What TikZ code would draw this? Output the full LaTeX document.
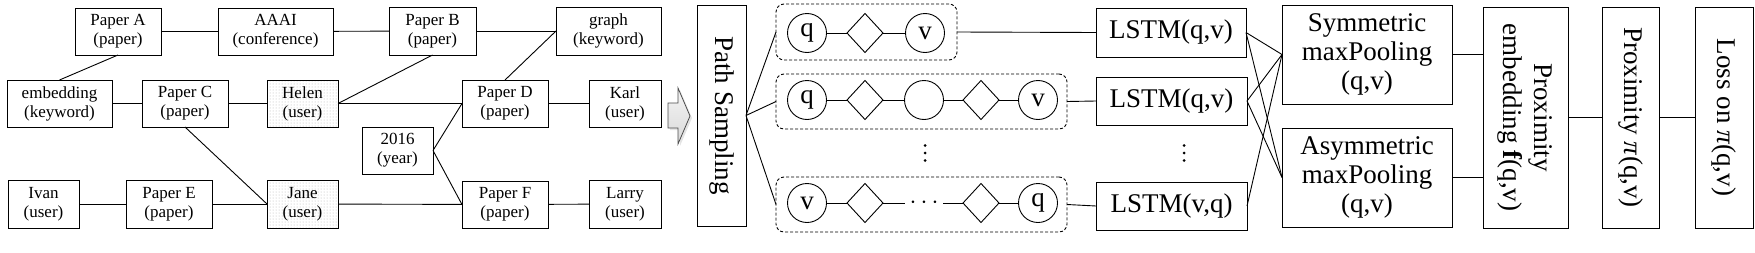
\documentclass[tikz,border=0pt]{standalone}
\usepackage{fontspec}
\setmainfont{Liberation Serif}
\usetikzlibrary{shapes.geometric,patterns,shadows}
\begin{document}
\begin{tikzpicture}[x=1pt,y=-1pt,
  every node/.style={inner sep=0pt, outer sep=0pt},
  gbox/.style={draw, line width=0.9pt, align=center, font=\fontsize{17}{19}\selectfont},
  ubox/.style={gbox, pattern=dots, pattern color=gray!60},
  bigbox/.style={draw, line width=1pt, align=center, font=\fontsize{27}{29}\selectfont},
  pathbox/.style={draw, line width=0.9pt, dash pattern=on 3pt off 2pt, rounded corners=8pt},
  circ/.style={draw, circle, line width=0.9pt, minimum size=39pt, font=\fontsize{27}{29}\selectfont},
  diam/.style={draw, diamond, line width=0.9pt, minimum width=36pt, minimum height=39pt},
  dotsnode/.style={font=\fontsize{27}{29}\selectfont},
  edge/.style={line width=0.9pt}
]
\useasboundingbox (0,0) rectangle (1755,252);

% ---------- heterogeneous graph ----------
\node[gbox, minimum width=86pt, minimum height=47pt] (PA) at (118,31.5) {Paper A\\(paper)};
\node[gbox, minimum width=115pt, minimum height=47pt] (AAAI) at (275.5,31.5) {AAAI\\(conference)};
\node[gbox, minimum width=87pt, minimum height=48pt] (PB) at (432.5,31) {Paper B\\(paper)};
\node[gbox, minimum width=105pt, minimum height=48pt] (graph) at (608.5,31) {graph\\(keyword)};
\node[gbox, minimum width=105pt, minimum height=47pt] (emb) at (59.5,103.5) {embedding\\(keyword)};
\node[gbox, minimum width=86pt, minimum height=47pt] (PC) at (185,103.5) {Paper C\\(paper)};
\node[ubox, minimum width=71pt, minimum height=47pt] (Helen) at (302.5,103.5) {Helen\\(user)};
\node[gbox, minimum width=86pt, minimum height=47pt] (PD) at (505,103.5) {Paper D\\(paper)};
\node[gbox, minimum width=72pt, minimum height=47pt] (Karl) at (625,103.5) {Karl\\(user)};
\node[gbox, minimum width=71pt, minimum height=47pt] (Y) at (397.5,150.5) {2016\\(year)};
\node[gbox, minimum width=71pt, minimum height=48pt] (Ivan) at (43.5,204) {Ivan\\(user)};
\node[gbox, minimum width=86pt, minimum height=48pt] (PE) at (169,204) {Paper E\\(paper)};
\node[ubox, minimum width=71pt, minimum height=48pt] (Jane) at (302.5,204) {Jane\\(user)};
\node[gbox, minimum width=86pt, minimum height=47pt] (PF) at (505,204.5) {Paper F\\(paper)};
\node[gbox, minimum width=72pt, minimum height=48pt] (Larry) at (625,204) {Larry\\(user)};

\draw[edge] (PA) -- (AAAI);
\draw[edge] (AAAI) -- (PB);
\draw[edge] (PB) -- (graph);
\draw[edge] (PA.south) -- (emb.north);
\draw[edge] (emb) -- (PC);
\draw[edge] (PC) -- (Helen);
\draw[edge] (Helen.east) -- (PB.south);
\draw[edge] (Helen) -- (PD);
\draw[edge] (graph.west) -- (PD.north);
\draw[edge] (PD) -- (Karl);
\draw[edge] (PC.south) -- (Jane.west);
\draw[edge] (Ivan) -- (PE);
\draw[edge] (PE) -- (Jane);
\draw[edge] (Jane) -- (PF);
\draw[edge] (Y.east) -- (PD.west);
\draw[edge] (Y.east) -- (PF.west);
\draw[edge] (PF) -- (Larry);

% ---------- block arrow ----------
\fill[gray!35, xshift=2pt, yshift=-2pt, opacity=0.6] (668,103) -- (678,103) -- (678,88) -- (690,116) -- (678,144) -- (678,128) -- (668,128) -- cycle;
\draw[line width=0.8pt, gray!60!black, top color=gray!8, bottom color=gray!30]
  (668,103) -- (678,103) -- (678,88) -- (690,116) -- (678,144) -- (678,128) -- (668,128) -- cycle;

% ---------- path sampling ----------
\node[bigbox, minimum width=49pt, minimum height=221pt] (PS) at (721.5,115.5) {\rotatebox{-90}{Path Sampling}};

\node[pathbox, minimum width=181pt, minimum height=56pt] (P1) at (866.5,32) {};
\node[pathbox, minimum width=291pt, minimum height=55pt] (P2) at (921.5,101.5) {};
\node[pathbox, minimum width=291pt, minimum height=55pt] (P3) at (921.5,204.5) {};

\node[circ] (a1) at (807,33) {q};
\node[diam] (a2) at (865,33) {};
\node[circ] (a3) at (925,33) {v};
\draw[edge] (a1) -- (a2); \draw[edge] (a2) -- (a3);

\node[circ] (b1) at (807,100) {q};
\node[diam] (b2) at (865,100) {};
\node[circ] (b3) at (924,100) {};
\node[diam] (b4) at (981,100) {};
\node[circ] (b5) at (1038,100) {v};
\draw[edge] (b1) -- (b2); \draw[edge] (b2) -- (b3);
\draw[edge] (b3) -- (b4); \draw[edge] (b4) -- (b5);

\node[circ] (c1) at (807,203) {v};
\node[diam] (c2) at (865,203) {};
\node[dotsnode, minimum width=38pt, minimum height=10pt] (c3) at (924,203) {$\cdots$};
\node[diam] (c4) at (981,203) {};
\node[circ] (c5) at (1038,203) {q};
\draw[edge] (c1) -- (c2); \draw[edge] (c2) -- (c3);
\draw[edge] (c3) -- (c4); \draw[edge] (c4) -- (c5);

% vertical ellipses
\foreach \yy in {145.5,153,160.5} {
  \fill (925,\yy) circle (1.5pt);
  \fill (1184,\yy) circle (1.5pt);
}

\draw[edge] (PS.east) -- (P1.west);
\draw[edge] (PS.east) -- (P2.west);
\draw[edge] (PS.east) -- (P3.west);

% ---------- LSTM ----------
\node[bigbox, minimum width=150pt, minimum height=49pt] (L1) at (1171,32.5) {LSTM(q,v)};
\node[bigbox, minimum width=151pt, minimum height=48pt] (L2) at (1171.5,101) {LSTM(q,v)};
\node[bigbox, minimum width=151pt, minimum height=48pt] (L3) at (1171.5,206) {LSTM(v,q)};

\draw[edge] (P1.east) -- (L1.west);
\draw[edge] (P2.east) -- (L2.west);
\draw[edge] (P3.east) -- (L3.west);

% ---------- pooling ----------
\node[bigbox, minimum width=170pt, minimum height=99pt] (Sym) at (1367,54.5) {Symmetric\\maxPooling\\(q,v)};
\node[bigbox, minimum width=170pt, minimum height=99pt] (Asym) at (1367,177.5) {Asymmetric\\maxPooling\\(q,v)};

\draw[edge] (L1.east) -- (Sym.west);
\draw[edge] (L1.east) -- (Asym.west);
\draw[edge] (L2.east) -- (Sym.west);
\draw[edge] (L2.east) -- (Asym.west);
\draw[edge] (L3.east) -- (Sym.west);

% ---------- proximity ----------
\node[bigbox, minimum width=85pt, minimum height=221pt] (PEm) at (1525.5,117.5)
  {\rotatebox{-90}{\fontsize{27}{31}\selectfont\begin{tabular}{@{}c@{}}Proximity\\embedding \textbf{f}(q,v)\end{tabular}}};
\node[bigbox, minimum width=57pt, minimum height=221pt] (Prox) at (1630.5,117.5) {\rotatebox{-90}{Proximity \textit{π}(q,v)}};
\node[bigbox, minimum width=58pt, minimum height=221pt] (Loss) at (1724,117.5) {\rotatebox{-90}{Loss on \textit{π}(q,v)}};

\draw[edge] (Sym.east) -- (Sym.east -| PEm.west);
\draw[edge] (Asym.east) -- (Asym.east -| PEm.west);
\draw[edge] (PEm) -- (Prox);
\draw[edge] (Prox) -- (Loss);
\end{tikzpicture}
\end{document}
